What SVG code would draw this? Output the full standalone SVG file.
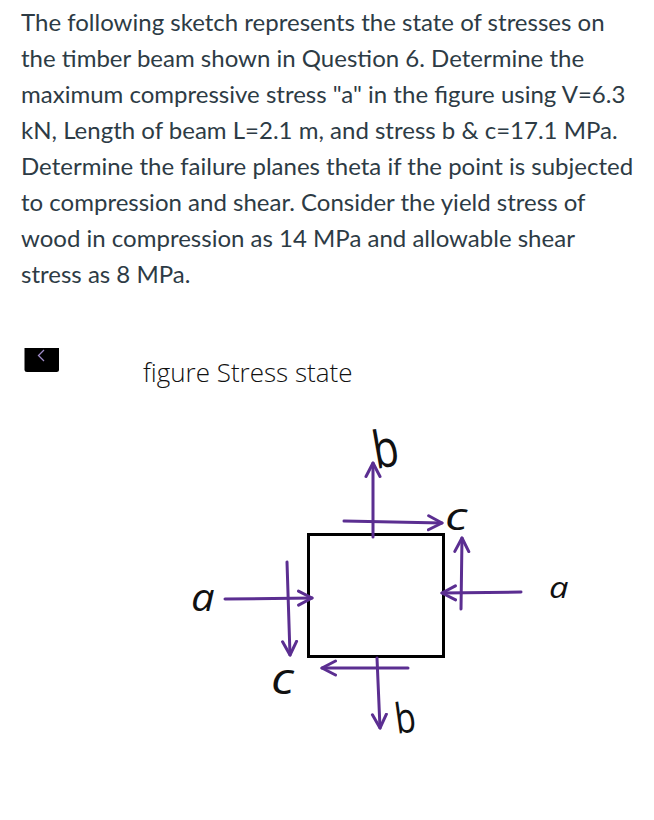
<svg xmlns="http://www.w3.org/2000/svg" width="654" height="820" viewBox="0 0 654 820">
<style>
.q{font-family:"Lato","Liberation Sans",sans-serif;font-size:24.03px;fill:#2d3b45}
.fig{font-family:"Open Sans","Liberation Sans",sans-serif;font-size:26px;font-weight:300;fill:#111}
.hand{font-family:"Open Sans","Liberation Sans",sans-serif;font-weight:400;fill:#111}
.it{font-style:italic}
.f{fill:none;stroke:#5b2e91;stroke-width:3;stroke-linecap:round;marker-end:url(#h)}
</style>
<defs>
<marker id="h" markerUnits="userSpaceOnUse" markerWidth="20" markerHeight="20" refX="15" refY="10" orient="auto">
<path d="M1.500 3L15 10L1.500 17" fill="none" stroke="#5b2e91" stroke-width="3" stroke-linecap="round" stroke-linejoin="round"/>
</marker>
</defs>
<rect width="654" height="820" fill="#fff"/>
<g id="question">
<text class="q" x="21" y="31">The following sketch represents the state of stresses on</text>
<text class="q" x="21" y="67">the timber beam shown in Question 6. Determine the</text>
<text class="q" x="21" y="103">maximum compressive stress "a" in the figure using V=6.3</text>
<text class="q" x="21" y="139">kN, Length of beam L=2.1 m, and stress b &amp; c=17.1 MPa.</text>
<text class="q" x="21" y="175">Determine the failure planes theta if the point is subjected</text>
<text class="q" x="21" y="211">to compression and shear. Consider the yield stress of</text>
<text class="q" x="21" y="247">wood in compression as 14 MPa and allowable shear</text>
<text class="q" x="21" y="283">stress as 8 MPa.</text>
</g>
<g id="button">
<path d="M24.500 348H59V369.500Q59 372 56.500 372H27Q24.500 372 24.500 369.500Z" fill="#000"/>
<path d="M44 350L38.500 355.500L44 361" fill="none" stroke="#a08cc8" stroke-width="1.300"/>
</g>
<text id="caption" class="fig" x="143" y="382">figure Stress state</text>
<g id="square">
<rect x="308.500" y="534.500" width="135" height="122" fill="#fff" stroke="#000" stroke-width="3"/>
</g>
<g id="connectors">
<path class="f" d="M373 537L373 463"/>
<path class="f" d="M344 521L442 523"/>
<path class="f" d="M225 599L312 598"/>
<path class="f" d="M287 562L290 655"/>
<path class="f" d="M408 668L322 668"/>
<path class="f" d="M377 658L380 728"/>
<path class="f" d="M521 592L442 593"/>
<path class="f" d="M461 609L462 538"/>
</g>
<g id="label-b-top"><text class="hand" transform="translate(376 469) rotate(-10) scale(.8 1)" font-size="52">b</text></g>
<g id="label-c-top"><text class="hand it" transform="translate(445 530) scale(1.3 1)" font-size="38">c</text></g>
<g id="label-a-left"><text class="hand it" transform="translate(191 611) scale(1.1 1)" font-size="38">a</text></g>
<g id="label-c-bottom"><text class="hand it" transform="translate(271 694) scale(1.15 1)" font-size="44">c</text></g>
<g id="label-b-bottom"><text class="hand" transform="translate(397 734) rotate(-8) scale(.8 1)" font-size="42">b</text></g>
<g id="label-a-right"><text class="hand it" transform="translate(549 598) scale(1.15 1)" font-size="30">a</text></g>
</svg>
